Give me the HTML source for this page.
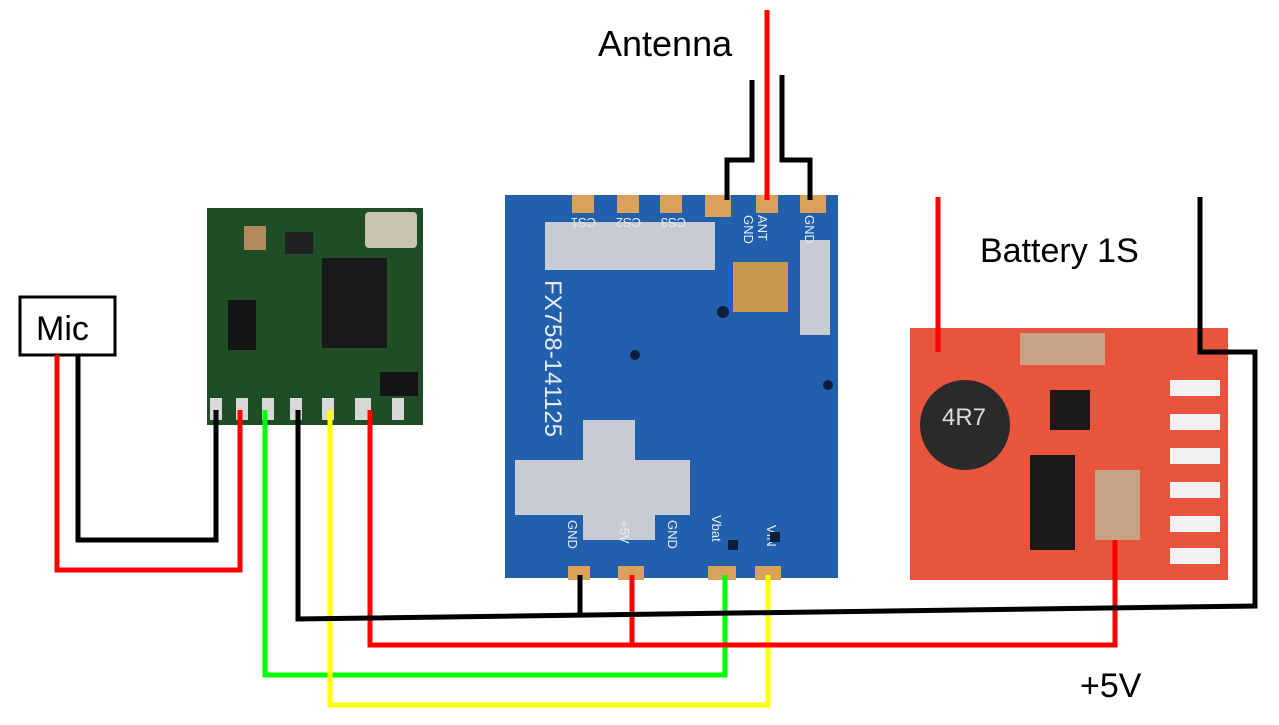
<!DOCTYPE html>
<html><head><meta charset="utf-8"><style>
html,body{margin:0;padding:0;background:#fff;width:1279px;height:725px;overflow:hidden}
svg{display:block}
text{font-family:"Liberation Sans","DejaVu Sans",sans-serif}
</style></head><body>
<svg width="1279" height="725" viewBox="0 0 1279 725" xmlns="http://www.w3.org/2000/svg">
<rect width="1279" height="725" fill="#fff"/>
<!-- green board -->
<rect x="207" y="208" width="216" height="217" fill="#1f4d25"/>
<rect x="322" y="258" width="65" height="90" fill="#1a1a1a"/>
<rect x="365" y="212" width="52" height="36" fill="#c9c3b0" rx="4"/>
<rect x="228" y="300" width="28" height="50" fill="#151515"/>
<rect x="244" y="226" width="22" height="24" fill="#b08a5a"/>
<rect x="285" y="232" width="28" height="22" fill="#222"/>
<rect x="380" y="372" width="38" height="24" fill="#151515"/>
<g fill="#d8d8d8"><rect x="210" y="398" width="12" height="22"/><rect x="236" y="398" width="12" height="22"/><rect x="262" y="398" width="12" height="22"/><rect x="290" y="398" width="12" height="22"/><rect x="322" y="398" width="12" height="22"/><rect x="355" y="398" width="16" height="22"/><rect x="392" y="398" width="12" height="22"/></g>
<!-- blue board -->
<rect x="505" y="195" width="333" height="383" fill="#2260ad"/>
<rect x="545" y="222" width="170" height="48" fill="#c7ccd2"/>
<rect x="800" y="240" width="30" height="95" fill="#c7ccd2"/>
<rect x="733" y="262" width="55" height="50" fill="#c99650"/>
<path d="M583 420 H635 V460 H690 V515 H655 V540 H583 V515 H515 V460 H583 Z" fill="#c7ccd2"/>
<text font-size="24" font-family="Liberation Mono,monospace" fill="#e8ecf2" transform="translate(545 280) rotate(90)">FX758-141125</text>
<g font-size="13" fill="#e8ecf2" font-family="Liberation Mono,monospace">
<text transform="translate(570 218) rotate(180) translate(-26 0)">CS1</text>
<text transform="translate(615 218) rotate(180) translate(-26 0)">CS2</text>
<text transform="translate(660 218) rotate(180) translate(-26 0)">CS3</text>
<text transform="translate(758 215) rotate(90)">ANT</text>
<text transform="translate(744 215) rotate(90)">GND</text>
<text transform="translate(805 215) rotate(90)">GND</text>
<text transform="translate(568 520) rotate(90)">GND</text>
<text transform="translate(620 520) rotate(90)">+5V</text>
<text transform="translate(668 520) rotate(90)">GND</text>
<text transform="translate(712 515) rotate(90)">Vbat</text>
<text transform="translate(767 525) rotate(90)">VIN</text>
</g>
<g fill="#0c1e3a"><circle cx="635" cy="355" r="5"/><circle cx="828" cy="385" r="5"/><circle cx="723" cy="312" r="6"/><rect x="728" y="540" width="10" height="10"/><rect x="770" y="532" width="10" height="10"/></g>
<g fill="#d9a15a"><rect x="572" y="195" width="22" height="18"/><rect x="617" y="195" width="22" height="18"/><rect x="660" y="195" width="22" height="18"/><rect x="705" y="195" width="26" height="22"/><rect x="756" y="195" width="22" height="18"/><rect x="800" y="195" width="26" height="18"/>
<rect x="568" y="566" width="22" height="14"/><rect x="618" y="566" width="26" height="14"/><rect x="708" y="566" width="28" height="14"/><rect x="755" y="566" width="26" height="14"/></g>
<!-- red board -->
<rect x="910" y="328" width="318" height="252" fill="#e9553c"/>
<circle cx="965" cy="425" r="45" fill="#2a2a2a"/>
<text x="942" y="425" font-size="24" fill="#ddd">4R7</text>
<rect x="1030" y="455" width="45" height="95" fill="#1a1a1a"/>
<rect x="1095" y="470" width="45" height="70" fill="#c7a284"/>
<rect x="1050" y="390" width="40" height="40" fill="#1a1a1a"/>
<rect x="1020" y="333" width="85" height="32" fill="#c7a284"/>
<g fill="#f2f2f2"><rect x="1170" y="380" width="50" height="16"/><rect x="1170" y="414" width="50" height="16"/><rect x="1170" y="448" width="50" height="16"/><rect x="1170" y="482" width="50" height="16"/><rect x="1170" y="516" width="50" height="16"/><rect x="1170" y="548" width="50" height="16"/></g>
<!-- mic -->
<rect x="20" y="297" width="95" height="58" fill="#fff" stroke="#000" stroke-width="3"/>
<text x="36" y="340" font-size="34">Mic</text>
<!-- wires -->
<g fill="none" stroke-width="5" stroke-linejoin="miter">
<polyline points="57,355 57,570 240,570 240,410" stroke="#ff0000"/>
<polyline points="78,355 78,540 216,540 216,410" stroke="#000"/>
<polyline points="265,410 265,675 725,675 725,575" stroke="#00ff00"/>
<polyline points="330,410 330,705 768,705 768,575" stroke="#ffff00"/>
<polyline points="370,410 370,645 1115,645 1115,540" stroke="#ff0000"/>
<polyline points="632,575 632,645" stroke="#ff0000"/>
<polyline points="298,410 298,619 1255,606 1255,352 1200,352 1200,197" stroke="#000"/>
<polyline points="580,575 580,617" stroke="#000"/>
<polyline points="752,80 752,160 727,160 727,200" stroke="#000"/>
<polyline points="782,75 782,160 810,160 810,200" stroke="#000"/>
<polyline points="767,10 767,200" stroke="#ff0000"/>
<polyline points="938,197 938,352" stroke="#ff0000"/>
</g>
<text x="598" y="56" font-size="36">Antenna</text>
<text x="980" y="262" font-size="34">Battery 1S</text>
<text x="1080" y="697" font-size="34">+5V</text>
</svg>
</body></html>
